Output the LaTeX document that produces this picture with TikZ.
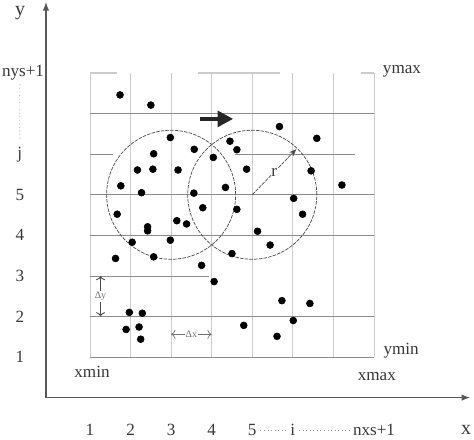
\documentclass[tikz,border=0pt]{standalone}
\usepackage{fontspec}
\setmainfont{Liberation Serif}
\usetikzlibrary{arrows.meta}
\definecolor{axisgray}{gray}{0.35}
\definecolor{hgray}{gray}{0.55}
\definecolor{vgray}{gray}{0.80}
\definecolor{labelgray}{gray}{0.22}
\tikzset{
  hline/.style={draw=hgray, line width=0.5pt},
  vline/.style={draw=vgray, line width=0.6pt},
  axis/.style={draw=axisgray, line width=0.8pt, -{Latex[length=6pt,width=4.5pt]}},
  ring/.style={draw=black!70, line width=0.5pt, dash pattern=on 2.5pt off 0.8pt},
  lbl/.style={text=labelgray, font=\fontsize{12}{14}\selectfont, inner sep=0.5pt},
  axlbl/.style={text=labelgray, font=\fontsize{14}{16}\selectfont, inner sep=0.5pt},
  delta/.style={text=black!55, font=\fontsize{7}{8}\selectfont, inner sep=0.6pt, fill=white},
  dotline/.style={draw=black!40, dotted, line width=0.5pt},
}
\begin{document}
\begin{tikzpicture}
\useasboundingbox (-2.218,-2.021) rectangle (9.465,8.80);
% axes
\coordinate (O) at (-1.085,-1.0);
\coordinate (ytip) at (-1.085,8.75);
\coordinate (xtip) at (9.37,-1.0);
\draw[axis] (O) -- (ytip);
\draw[axis] (O) -- (xtip);
\node[axlbl] (ylbl) at (-1.72,8.47) {y};
\node[axlbl] (xlbl) at (9.27,-1.8) {x};
% grid
\foreach \x in {0,...,7} \draw[vline] (\x,0) -- (\x,7);
\draw[vline, line width=1pt] (0,7) -- (0.67,7);
\draw[vline, line width=1pt] (2.66,7) -- (4.68,7);
\draw[vline, line width=1pt] (6.68,7) -- (7,7);
\draw[hline] (0,6) -- (7,6);
\draw[hline] (0,5) -- (0.57,5);
\draw[hline] (3.57,5) -- (6.53,5);
\draw[hline] (0,4) -- (7,4);
\draw[hline] (0,3) -- (7,3);
\draw[hline] (0,2) -- (2.93,2);
\draw[hline] (0,1) -- (7,1);
\draw[hline] (0,0) -- (7,0);
% limits
\node[lbl] (ymax) at (7.69,7.05) {ymax};
\node[lbl] (ymin) at (7.67,0.15) {ymin};
\node[lbl] (xmin) at (0.05,-0.37) {xmin};
\node[lbl] (xmax) at (7.07,-0.47) {xmax};
% y indices
\node[lbl] (ynys) at (-1.65,7) {nys+1};
\node[lbl] (yj) at (-1.73,5) {j};
\node[lbl] (y5) at (-1.73,4) {5};
\node[lbl] (y4) at (-1.73,3) {4};
\node[lbl] (y3) at (-1.73,2) {3};
\node[lbl] (y2) at (-1.73,1) {2};
\node[lbl] (y1) at (-1.73,0) {1};
\draw[dotline, shorten <=2pt, shorten >=3pt] ([xshift=-2.3pt]ynys.south) -- (yj);
% x indices
\node[lbl] (x1) at (0,-1.8) {1};
\node[lbl] (x2) at (1,-1.8) {2};
\node[lbl] (x3) at (2,-1.8) {3};
\node[lbl] (x4) at (3,-1.8) {4};
\node[lbl] (x5) at (4,-1.8) {5};
\node[lbl] (xi) at (5,-1.8) {i};
\node[lbl] (xnxs) at (7,-1.8) {nxs+1};
\draw[dotline, shorten <=2pt, shorten >=2pt] (x5) -- (xi);
\draw[dotline, shorten <=2pt, shorten >=1pt] (xi) -- (xnxs);
% cell sizes
\coordinate (dxl) at (2,0.56);
\coordinate (dxr) at (3,0.56);
\node[delta] (dx) at (2.5,0.56) {Δx};
\draw[black!55, line width=0.5pt, -{To[length=3pt]}] (dx) -- (dxl);
\draw[black!55, line width=0.5pt, -{To[length=3pt]}] (dx) -- (dxr);
\coordinate (dyt) at (0.26,2);
\coordinate (dyb) at (0.26,1);
\node[delta] (dy) at (0.26,1.5) {Δy};
\draw[black!70, line width=0.6pt, -{To[length=3pt]}] (dy) -- (dyt);
\draw[black!70, line width=0.6pt, -{To[length=3pt]}] (dy) -- (dyb);
% search circles
\coordinate (c1) at (2,4);
\coordinate (c2) at (4,4);
\draw[ring] (c1) circle[radius=1.59];
\draw[ring] (c2) circle[radius=1.59];
\coordinate (rtip) at ([shift={(46:1.56)}]c2);
\draw[ring, -{Stealth[length=5pt,width=4pt]}] (c2) -- node[lbl, fill=white, inner sep=0.3pt] (rlbl) {r} (rtip);
% moving direction
\coordinate (mvs) at (2.71,5.87);
\coordinate (mve) at (3.53,5.87);
\draw[black!85, line width=2.8pt, -{Triangle[length=11pt,width=11pt]}] (mvs) -- (mve);
% data points
\draw[fill] (0.74,6.46) circle[radius=.085];
\draw[fill] (1.50,6.21) circle[radius=.085];
\draw[fill] (4.67,5.68) circle[radius=.085];
\draw[fill] (1.98,5.41) circle[radius=.085];
\draw[fill] (3.45,5.32) circle[radius=.085];
\draw[fill] (5.59,5.39) circle[radius=.085];
\draw[fill] (2.57,5.12) circle[radius=.085];
\draw[fill] (1.57,5.01) circle[radius=.085];
\draw[fill] (3.62,5.11) circle[radius=.085];
\draw[fill] (3.04,4.92) circle[radius=.085];
\draw[fill] (1.17,4.61) circle[radius=.085];
\draw[fill] (1.55,4.63) circle[radius=.085];
\draw[fill] (2.17,4.61) circle[radius=.085];
\draw[fill] (3.86,4.63) circle[radius=.085];
\draw[fill] (5.45,4.59) circle[radius=.085];
\draw[fill] (0.76,4.22) circle[radius=.085];
\draw[fill] (1.27,4.05) circle[radius=.085];
\draw[fill] (2.56,4.04) circle[radius=.085];
\draw[fill] (3.34,4.18) circle[radius=.085];
\draw[fill] (6.21,4.24) circle[radius=.085];
\draw[fill] (2.78,3.68) circle[radius=.085];
\draw[fill] (0.67,3.52) circle[radius=.085];
\draw[fill] (3.62,3.64) circle[radius=.085];
\draw[fill] (5.02,3.91) circle[radius=.085];
\draw[fill] (5.24,3.52) circle[radius=.085];
\draw[fill] (2.14,3.36) circle[radius=.085];
\draw[fill] (2.38,3.28) circle[radius=.085];
\draw[fill] (1.42,3.21) circle[radius=.085];
\draw[fill] (1.42,3.11) circle[radius=.085];
\draw[fill] (1.04,2.83) circle[radius=.085];
\draw[fill] (1.98,2.88) circle[radius=.085];
\draw[fill] (4.13,3.10) circle[radius=.085];
\draw[fill] (4.44,2.76) circle[radius=.085];
\draw[fill] (0.63,2.43) circle[radius=.085];
\draw[fill] (1.57,2.47) circle[radius=.085];
\draw[fill] (3.50,2.55) circle[radius=.085];
\draw[fill] (2.75,2.26) circle[radius=.085];
\draw[fill] (3.06,1.86) circle[radius=.085];
\draw[fill] (4.73,1.39) circle[radius=.085];
\draw[fill] (5.42,1.32) circle[radius=.085];
\draw[fill] (0.97,1.10) circle[radius=.085];
\draw[fill] (1.29,1.08) circle[radius=.085];
\draw[fill] (0.89,0.68) circle[radius=.085];
\draw[fill] (1.21,0.74) circle[radius=.085];
\draw[fill] (1.25,0.44) circle[radius=.085];
\draw[fill] (5.01,0.90) circle[radius=.085];
\draw[fill] (3.79,0.78) circle[radius=.085];
\draw[fill] (4.61,0.51) circle[radius=.085];
\end{tikzpicture}
\end{document}
